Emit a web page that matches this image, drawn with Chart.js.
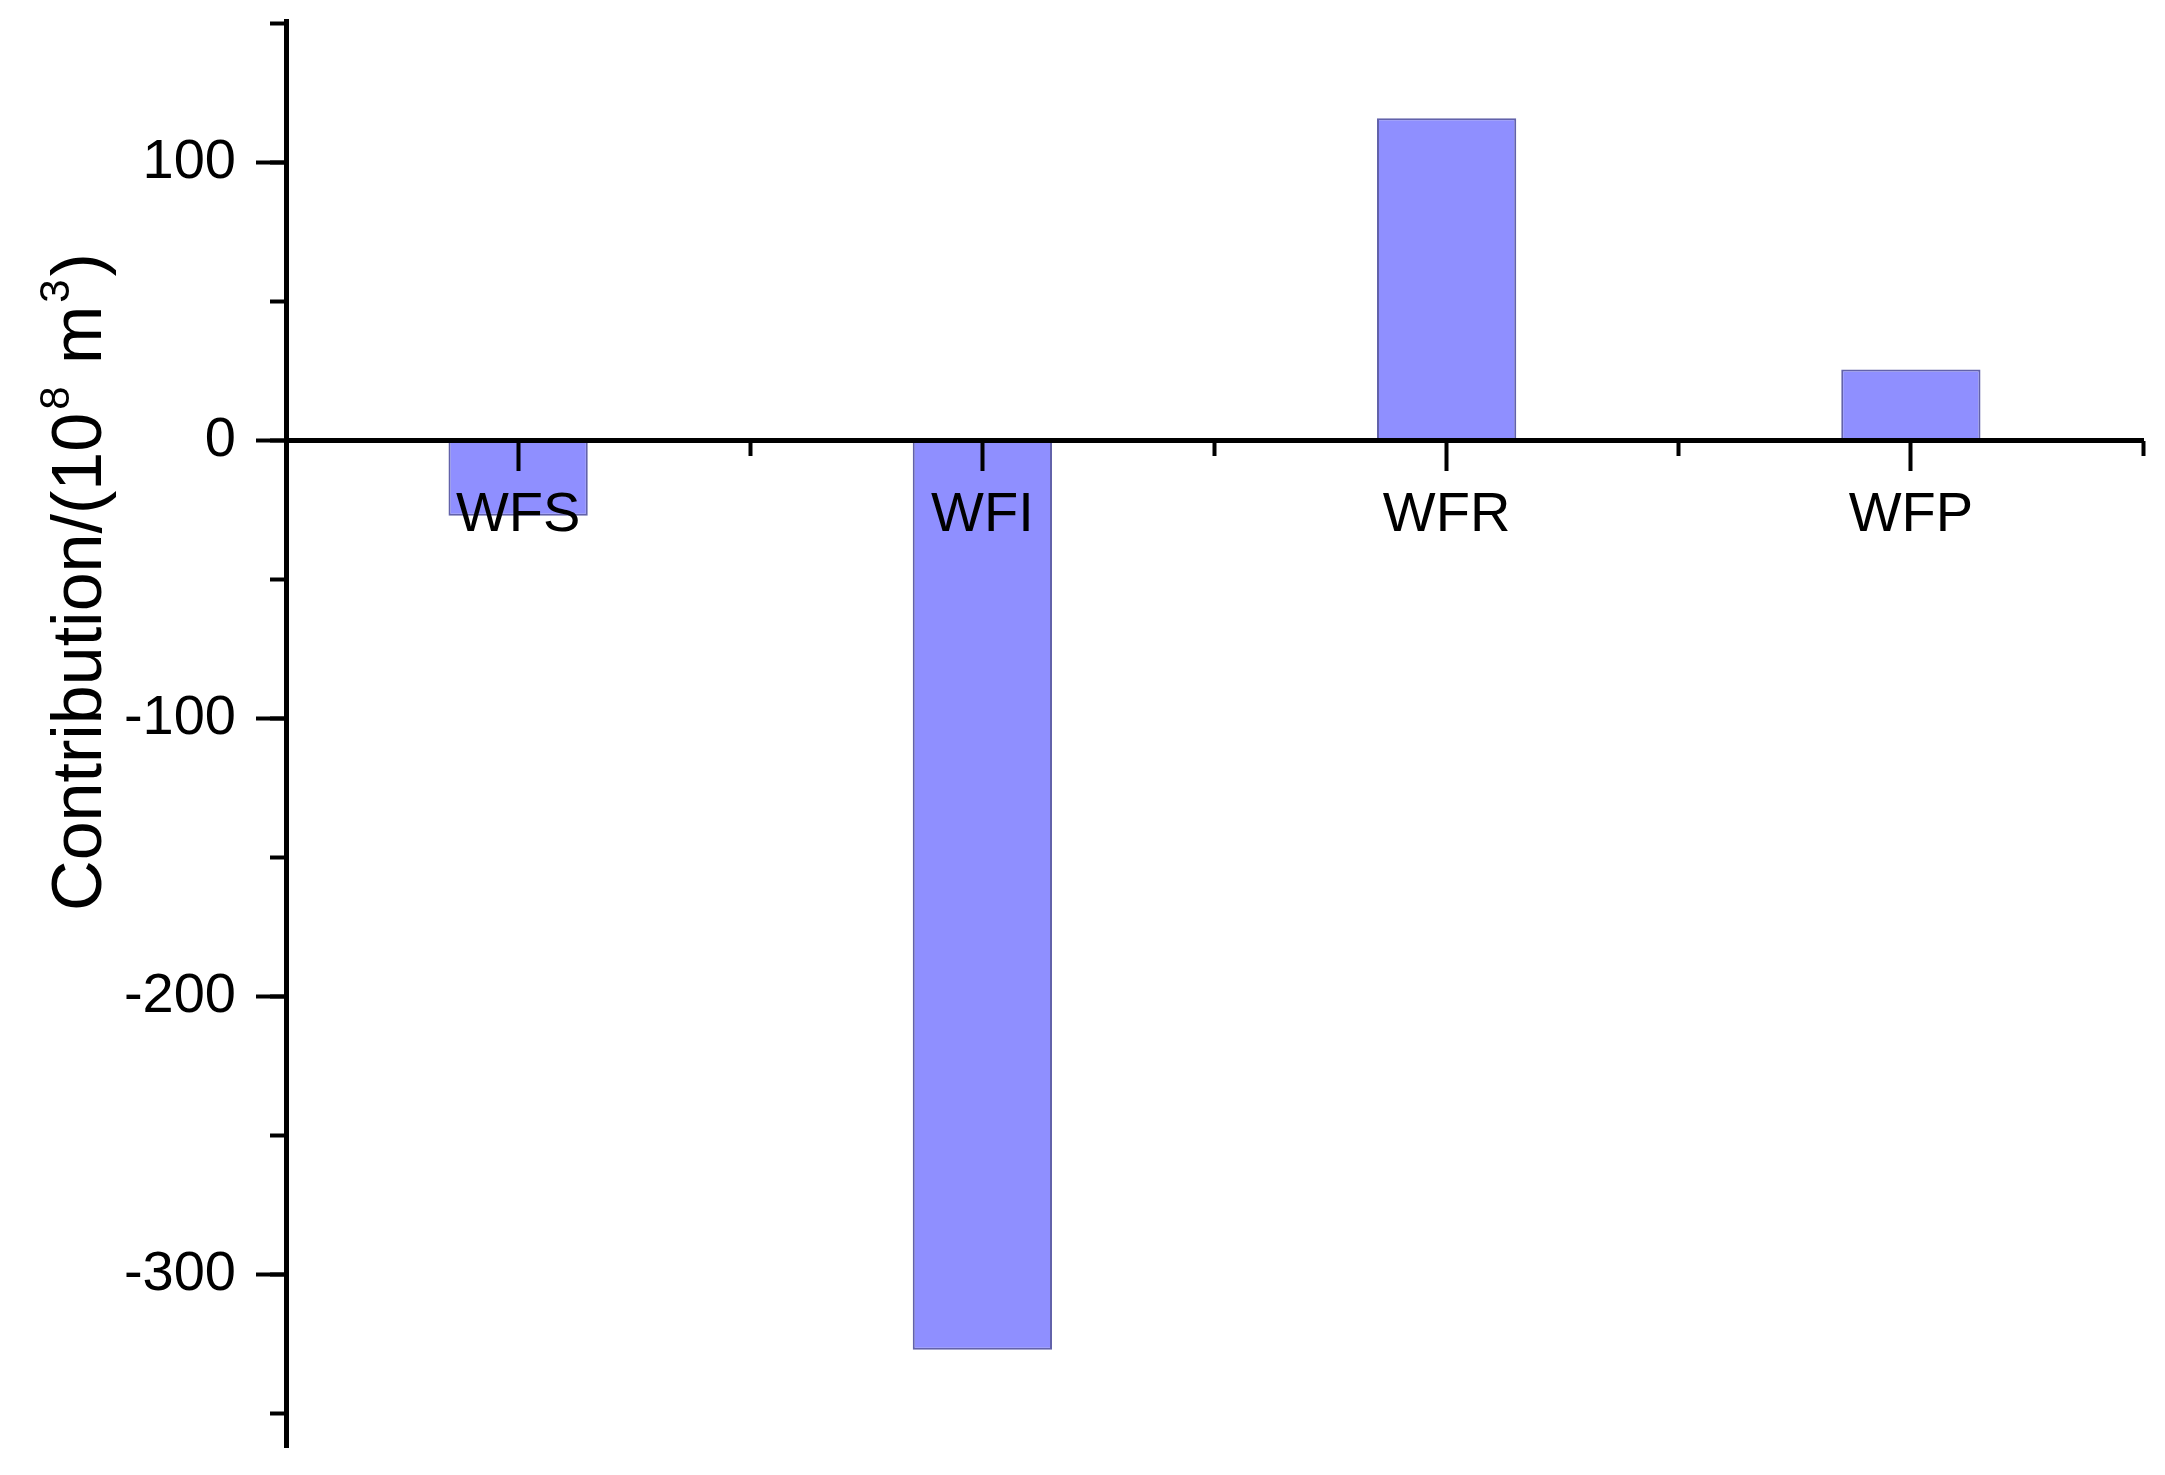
<!DOCTYPE html>
<html>
<head>
<meta charset="utf-8">
<script src="https://cdn.jsdelivr.net/npm/chart.js@4/dist/chart.umd.min.js"></script>
<style>
  html, body { margin: 0; padding: 0; background: #fff; }
  #wrap { width: 2165px; height: 1475px; position: relative; }
</style>
</head>
<body>
<div id="wrap"><canvas id="graficoContrib"></canvas></div>
<script>
// dados
const categories = ['WFS', 'WFI', 'WFR', 'WFP'];
const contribution = [-27, -327, 116, 25.6];
const yMin = -362;
const yMax = 151;
const yMajorStep = 100;
const yMinorStep = 50;

const fontFamily = '"Liberation Sans", Arial, sans-serif';

// titulo do eixo y com sobrescritos
const yTitlePlugin = {
    id: 'yTitle',
    afterDraw(chart) {
        const c = chart.ctx;
        const parts = [
            { t: 'Contribution/(10', sup: false },
            { t: '8', sup: true },
            { t: ' m', sup: false },
            { t: '3', sup: true },
            { t: ')', sup: false }
        ];
        const big = '70px ' + fontFamily;
        const small = '42px ' + fontFamily;
        c.save();
        let total = 0;
        parts.forEach(p => {
            c.font = p.sup ? small : big;
            p.w = c.measureText(p.t).width;
            total += p.w;
        });
        c.translate(101, 588);
        c.rotate(-Math.PI / 2);
        c.fillStyle = '#000';
        c.textBaseline = 'alphabetic';
        c.textAlign = 'left';
        let x = -total / 2;
        parts.forEach(p => {
            c.font = p.sup ? small : big;
            c.fillText(p.t, x + (p.sup ? 3 : 0), p.sup ? -32 : 0);
            x += p.w + (p.sup ? 6 : 0);
        });
        c.restore();
    }
};

// sem folga extra dos rotulos no eixo y
const noLabelPad = scale => {
    scale.paddingTop = 0;
    scale.paddingBottom = 0;
};

const canvasElement = document.getElementById('graficoContrib');

new Chart(canvasElement, {
    type: 'bar',
    data: {
        labels: categories,
        datasets: [{
            data: contribution,
            backgroundColor: '#8f8fff',
            borderColor: '#6262aa',
            borderWidth: 2,
            barPercentage: 0.3,
            categoryPercentage: 1,
            xAxisID: 'x',
            yAxisID: 'y'
        }]
    },
    options: {
        responsive: true,
        maintainAspectRatio: false,
        animation: false,
        layout: {
            padding: { top: 21, right: 22, bottom: 28, left: 0 }
        },
        plugins: {
            legend: { display: false },
            title: { display: false },
            tooltip: { enabled: false }
        },
        scales: {
            x: {
                type: 'category',
                position: { y: 0 },
                offset: true,
                grid: {
                    offset: false,
                    drawOnChartArea: false,
                    tickLength: 28,
                    tickWidth: 4,
                    tickColor: '#000',
                    z: 1
                },
                border: { display: true, color: '#000', width: 5, z: 1 },
                ticks: {
                    color: '#000',
                    font: { family: fontFamily, size: 56 },
                    padding: 13,
                    maxRotation: 0,
                    autoSkip: false,
                    z: 1
                }
            },
            xMinor: {
                type: 'category',
                position: { y: 0 },
                offset: true,
                grid: {
                    offset: true,
                    drawOnChartArea: false,
                    tickLength: 15,
                    tickWidth: 4,
                    tickColor: '#000',
                    z: 1
                },
                border: { display: false },
                ticks: { display: false }
            },
            y: {
                type: 'linear',
                position: 'left',
                weight: 1,
                min: yMin,
                max: yMax,
                afterFit: scale => { scale.width = 286; noLabelPad(scale); },
                grid: {
                    drawOnChartArea: false,
                    tickLength: 30,
                    tickWidth: 4,
                    tickColor: '#000'
                },
                border: { display: true, color: '#000', width: 5 },
                ticks: {
                    stepSize: yMajorStep,
                    includeBounds: false,
                    color: '#000',
                    font: { family: fontFamily, size: 56 },
                    padding: 20
                }
            },
            yMinor: {
                type: 'linear',
                position: 'left',
                weight: 0,
                min: yMin,
                max: yMax,
                afterFit: scale => { scale.width = 0; noLabelPad(scale); },
                grid: {
                    drawOnChartArea: false,
                    tickLength: 16,
                    tickWidth: 4,
                    tickColor: '#000'
                },
                border: { display: false },
                ticks: {
                    stepSize: yMinorStep,
                    includeBounds: false,
                    display: false
                }
            }
        }
    },
    plugins: [yTitlePlugin]
});
</script>
</body>
</html>
